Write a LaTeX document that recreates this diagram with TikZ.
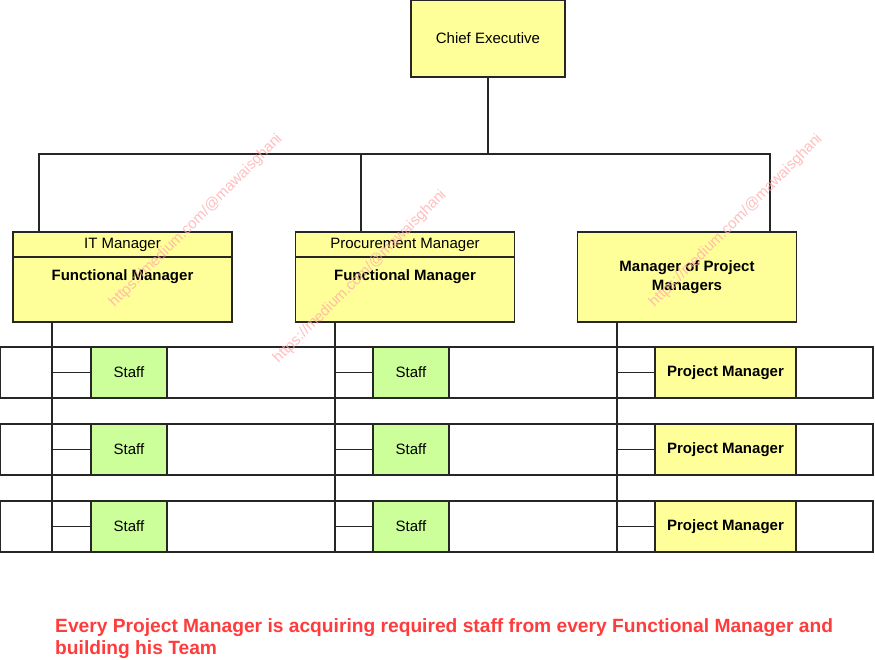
\documentclass[tikz,border=0pt]{standalone}
\usepackage{fontspec}
\setmainfont{Liberation Sans}
\usepackage{xcolor}
\usetikzlibrary{positioning}
\definecolor{box-yellow}{HTML}{FFFF99}
\definecolor{staff-green}{HTML}{CCFF99}
\definecolor{note-red}{HTML}{FF3B3B}
\definecolor{mark-red}{HTML}{FFA8A8}
\tikzset{
    base-box/.style = {draw=black!85, line width=1.2pt, rectangle, inner sep=0pt, font=\fontsize{15}{19}\selectfont},
    yellow-box/.style = {base-box, fill=box-yellow},
    manager-box/.style = {yellow-box, minimum width=219pt, minimum height=90pt},
    title-strip/.style = {yellow-box, minimum width=219pt, minimum height=25pt},
    staff-box/.style = {base-box, fill=staff-green, minimum width=76pt, minimum height=51pt},
    pm-box/.style = {yellow-box, minimum width=141pt, minimum height=51pt, font=\fontsize{15}{19}\selectfont\bfseries},
    row-band/.style = {base-box, fill=white, minimum width=873pt, minimum height=51pt},
    bold-text/.style = {font=\fontsize{15}{19}\selectfont\bfseries, align=center, inner sep=0pt},
    link/.style = {draw=black!85, line width=1.2pt},
    water-mark/.style = {text=mark-red, opacity=0.75, font=\fontsize{15}{18}\selectfont, inner sep=0pt},
}
\begin{document}
\begin{tikzpicture}[x=1pt, y=-1pt]
\useasboundingbox (0,0) rectangle (875,660);

% top of the chart
\node [yellow-box, minimum width=154pt, minimum height=77pt] (chief) at (488,38.5) {Chief Executive};
\node [manager-box] (it) at (122.5,277) {};
\node [manager-box] (proc) at (405,277) {};
\node [manager-box, font=\fontsize{15}{19}\selectfont\bfseries, align=center] (mpm) at (687,277) {Manager of Project\\Managers};
\node [title-strip, anchor=north] (it-title) at (it.north) {IT Manager};
\node [title-strip, anchor=north] (proc-title) at (proc.north) {Procurement Manager};
\node [bold-text] at ([yshift=-45.5pt]it.north) {Functional Manager};
\node [bold-text] at ([yshift=-45.5pt]proc.north) {Functional Manager};

\coordinate (left-drop) at (39,154);
\coordinate (mid-drop) at (361,154);
\coordinate (right-drop) at (770,154);
\draw [link] (chief.south) -- (chief.south |- left-drop);
\draw [link] (left-drop |- it.north) -- (left-drop) -- (right-drop) -- (right-drop |- mpm.north);
\draw [link] (mid-drop) -- (mid-drop |- proc.north);

% rows of staff and project managers
\foreach \r/\y in {1/372.5, 2/449.5, 3/526.5} {
    \node [row-band] (row\r) at (436.5,\y) {};
    \node [staff-box] (it-staff\r) at (129,\y) {Staff};
    \node [staff-box] (proc-staff\r) at (411,\y) {Staff};
    \node [pm-box] (pm\r) at (725.5,\y) {Project Manager};
}

\coordinate (it-bus) at (52,552);
\coordinate (proc-bus) at (335,552);
\coordinate (pm-bus) at (617,552);
\draw [link] (it-bus |- it.south) -- (it-bus);
\draw [link] (proc-bus |- proc.south) -- (proc-bus);
\draw [link] (pm-bus |- mpm.south) -- (pm-bus);
\foreach \r in {1,2,3} {
    \draw [link] (it-bus |- it-staff\r.west) -- (it-staff\r.west);
    \draw [link] (proc-bus |- proc-staff\r.west) -- (proc-staff\r.west);
    \draw [link] (pm-bus |- pm\r.west) -- (pm\r.west);
}

% note under the chart
\node [anchor=north west, align=left, inner sep=0pt, text=note-red, font=\fontsize{19.2}{22}\selectfont\bfseries] (note) at (55,618)
    {Every Project Manager is acquiring required staff from every Functional Manager and\\building his Team};

% watermarks
\node [water-mark, rotate=45] at (196,221) {https://medium.com/@mawaisghani};
\node [water-mark, rotate=45] at (360,277) {https://medium.com/@mawaisghani};
\node [water-mark, rotate=45] at (736,221) {https://medium.com/@mawaisghani};
\end{tikzpicture}
\end{document}
